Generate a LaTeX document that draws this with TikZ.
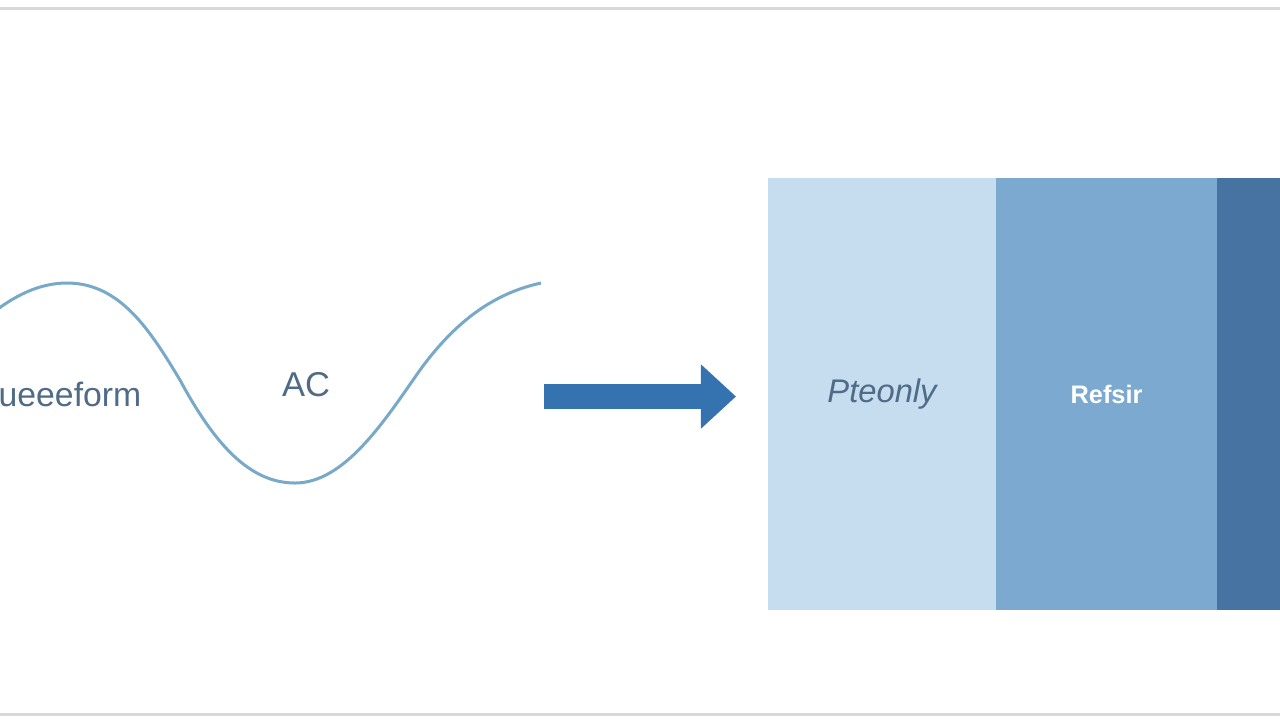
\documentclass[tikz,border=0pt]{standalone}
\usepackage{fontspec}
\setmainfont{Liberation Sans}
\definecolor{paneLight}{HTML}{C6DDF0}
\definecolor{paneMid}{HTML}{7BA9D0}
\definecolor{paneDark}{HTML}{4673A1}
\definecolor{flowBlue}{HTML}{3572B0}
\definecolor{waveBlue}{HTML}{78A9C8}
\definecolor{labelGrey}{HTML}{4F6B85}
\definecolor{edgeGrey}{HTML}{D8D8D8}
\usetikzlibrary{arrows.meta}
\tikzset{
    panel/.style={inner sep=0pt, minimum height=4.32cm, anchor=center},
    label/.style={text=labelGrey, inner sep=0pt},
}

\begin{document}
\begin{tikzpicture}[x=0.01cm, y=-0.01cm]
    \clip (0,0) rectangle (1280,720);
    \fill[white] (0,0) rectangle (1280,720);
    \draw[edgeGrey, line width=0.03cm] (0,8) -- (1280,8);
    \draw[edgeGrey, line width=0.03cm] (0,714) -- (1280,714);
    \draw[waveBlue, line width=0.03cm] (-10,315) .. controls (15,295) and (40,283) .. (67,283)
        .. controls (120,283) and (150,330) .. (180,380)
        .. controls (215,445) and (250,483) .. (295,483)
        .. controls (345,483) and (385,420) .. (420,370)
        .. controls (460,315) and (500,292) .. (541,283); % the AC curve
    \node[label, anchor=east, font=\fontsize{9.6}{11}\selectfont] (waveform) at (142,394) {ueeeform};
    \node[label, font=\fontsize{9.8}{12}\selectfont] (ac) at (306,385) {AC};
    \node[panel, fill=paneLight, minimum width=2.28cm, text=labelGrey, font=\fontsize{9.3}{11}\selectfont\itshape] (pteonly) at (882,394) {Pteonly};
    \node[panel, fill=paneMid, minimum width=2.21cm, text=white, font=\fontsize{7.2}{9}\selectfont\bfseries] (refsir) at (1106.5,394) {Refsir};
    \node[panel, fill=paneDark, minimum width=0.8cm] (darkpanel) at (1257,394) {};
    \coordinate (flowstart) at (544,396.5);
    \coordinate (flowend) at (736,396.5);
    \draw[-{Triangle[length=0.35cm, width=0.62cm]}, flowBlue, line width=0.25cm] (flowstart) -- (flowend);
\end{tikzpicture}
\end{document}
